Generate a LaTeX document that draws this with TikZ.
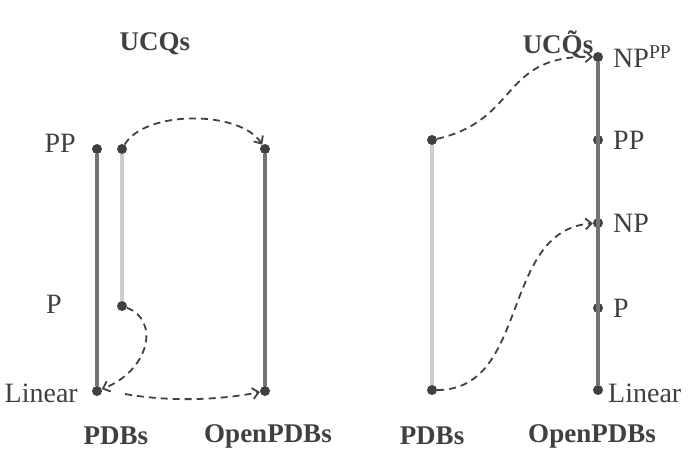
\documentclass[tikz,border=0pt]{standalone}
\usepackage{fontspec}
\setmainfont{Liberation Serif}
\usetikzlibrary{arrows.meta}
\begin{document}
\begin{tikzpicture}[x=1pt,y=-1pt,
  dk/.style={draw=black!55,line width=3.5pt},
  lt/.style={draw=black!20,line width=3.5pt},
  dot/.style={circle,fill=black!75,inner sep=0pt,minimum size=10pt},
  lab/.style={text=black!75,font=\fontsize{28}{32}\selectfont,inner sep=1pt},
  ttl/.style={text=black!75,font=\bfseries\fontsize{27}{31}\selectfont},
  dsh/.style={draw=black!75,dash pattern=on 7pt off 5pt,line width=1.8pt,-{Straight Barb[length=6pt,width=11pt]}}]
\useasboundingbox (0,0) rectangle (690,448);
% left
\node[dot] (a1) at (97,149) {};
\node[dot] (a2) at (97,391) {};
\node[dot] (b1) at (122,149) {};
\node[dot] (b2) at (122,306) {};
\node[dot] (c1) at (265,149) {};
\node[dot] (c2) at (265,391) {};
\path[dk] (a1)--(a2); \path[lt] (b1)--(b2); \path[dk] (c1)--(c2);
\node[lab,anchor=east] (lpp) at (77,143) {PP};
\node[lab,anchor=east] (lp) at (63,304) {P};
\node[lab,anchor=east] (llin) at (79,393) {Linear};
\node[ttl] (t1) at (155,44) {UCQs};
\node[ttl] (p1) at (116,436) {PDBs};
\node[ttl] (o1) at (268,436) {OpenPDBs};
\draw[dsh] (b1) .. controls (145,110) and (240,110) .. (c1);
\draw[dsh] (b2) .. controls (160,320) and (150,370) .. (a2);
\coordinate (hs) at (125,394);
\draw[dsh] (hs) .. controls (170,402) and (220,400) .. (c2);
% right
\node[dot] (d1) at (432,140) {};
\node[dot] (d2) at (432,390) {};
\node[dot] (e1) at (598,57) {};
\node[dot] (e2) at (598,140) {};
\node[dot] (e3) at (598,223) {};
\node[dot] (e4) at (598,308) {};
\node[dot] (e5) at (598,390) {};
\path[lt] (d1)--(d2); \path[dk] (e1)--(e5);
\node[lab,anchor=west] (rnp2) at (612,57) {NP\textsuperscript{PP}};
\node[lab,anchor=west] (rpp) at (612,140) {PP};
\node[lab,anchor=west] (rnp) at (612,223) {NP};
\node[lab,anchor=west] (rp) at (612,308) {P};
\node[lab,anchor=west] (rlin) at (607,393) {Linear};
\node[ttl] (t2) at (558,44) {UC\~{Q}s};
\node[ttl] (p2) at (432,436) {PDBs};
\node[ttl] (o2) at (592,436) {OpenPDBs};
\draw[dsh] (d1) .. controls (520,120) and (500,55) .. (e1);
\draw[dsh] (d2) .. controls (530,390) and (500,230) .. (e3);
\end{tikzpicture}
\end{document}
